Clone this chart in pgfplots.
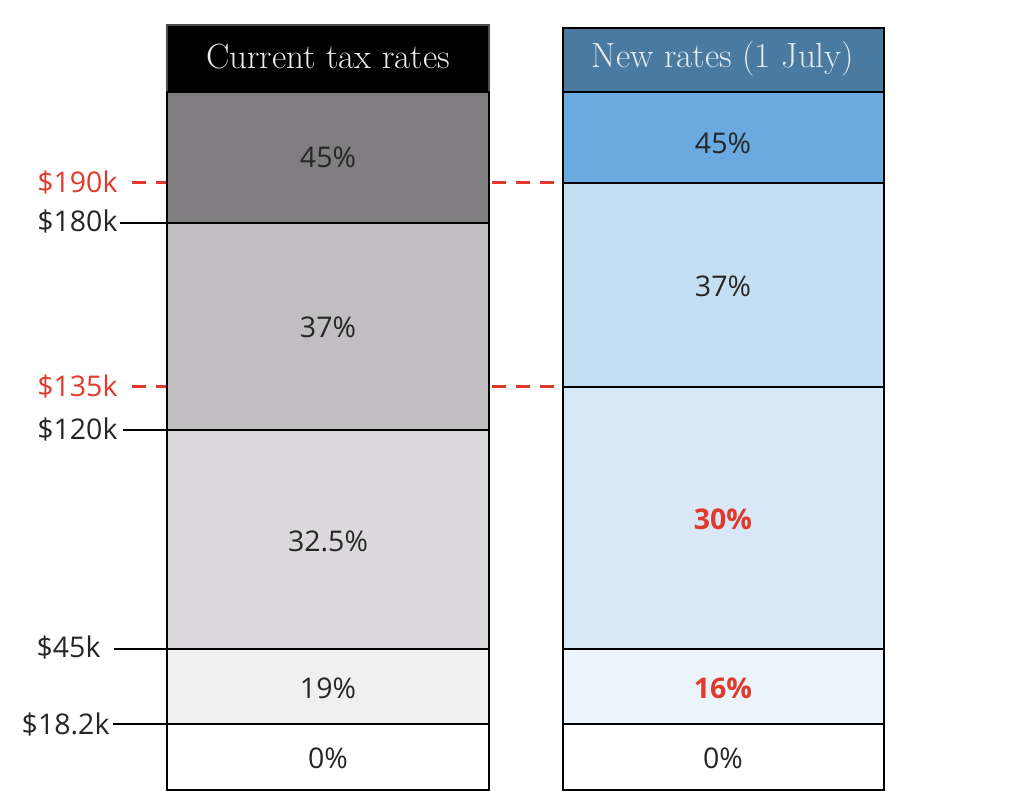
\documentclass[border=0pt]{standalone}
\usepackage{pgfplots}
\pgfplotsset{compat=1.18}
\usepackage{fontspec}
\newfontfamily\lab{Open Sans}
\newcommand{\lf}{\lab\fontsize{28.5}{32}\selectfont}
\definecolor{gA}{HTML}{807E80}
\definecolor{gB}{HTML}{C0BEC0}
\definecolor{gC}{HTML}{DBD9DC}
\definecolor{gD}{HTML}{F0F0F0}
\definecolor{bH}{HTML}{4A7AA0}
\definecolor{bA}{HTML}{6AAAE0}
\definecolor{bB}{HTML}{C5DFF2}
\definecolor{bC}{HTML}{D8E8F6}
\definecolor{bD}{HTML}{EBF3FB}
\definecolor{rd}{HTML}{E03A2A}
\begin{document}
\begin{tikzpicture}
\begin{axis}[x=1pt,y=1pt,xmin=0,xmax=1024,ymin=0,ymax=811,hide axis,clip=false]
\addplot[draw=none] coordinates {(0,0) (1024,811)};
% red dashed thresholds
\addplot[rd,line width=3pt,dash pattern=on 14pt off 10pt] coordinates {(132,628) (563,628)};
\addplot[rd,line width=3pt,dash pattern=on 14pt off 10pt] coordinates {(132,424) (563,424)};
% black tick lines
\addplot[black,line width=2.8pt] coordinates {(120,588) (167,588)};
\addplot[black,line width=2.8pt] coordinates {(123,381) (167,381)};
\addplot[black,line width=2.8pt] coordinates {(114,162) (167,162)};
\addplot[black,line width=2.8pt] coordinates {(113,87) (167,87)};
% left column
\addplot[fill=black,draw=black!70,line width=1.5pt] coordinates {(167,786) (489,786) (489,719) (167,719)} --cycle;
\addplot[fill=gA,draw=black,line width=2.8pt] coordinates {(167,719) (489,719) (489,588) (167,588)} --cycle;
\addplot[fill=gB,draw=black,line width=2.8pt] coordinates {(167,588) (489,588) (489,381) (167,381)} --cycle;
\addplot[fill=gC,draw=black,line width=2.8pt] coordinates {(167,381) (489,381) (489,162) (167,162)} --cycle;
\addplot[fill=gD,draw=black,line width=2.8pt] coordinates {(167,162) (489,162) (489,87) (167,87)} --cycle;
\addplot[fill=white,draw=black,line width=2.8pt] coordinates {(167,87) (489,87) (489,21) (167,21)} --cycle;
% right column
\addplot[fill=bH,draw=black,line width=2.8pt] coordinates {(563,783) (884,783) (884,719) (563,719)} --cycle;
\addplot[fill=bA,draw=black,line width=2.8pt] coordinates {(563,719) (884,719) (884,628) (563,628)} --cycle;
\addplot[fill=bB,draw=black,line width=2.8pt] coordinates {(563,628) (884,628) (884,424) (563,424)} --cycle;
\addplot[fill=bC,draw=black,line width=2.8pt] coordinates {(563,424) (884,424) (884,162) (563,162)} --cycle;
\addplot[fill=bD,draw=black,line width=2.8pt] coordinates {(563,162) (884,162) (884,87) (563,87)} --cycle;
\addplot[fill=white,draw=black,line width=2.8pt] coordinates {(563,87) (884,87) (884,21) (563,21)} --cycle;
% headers
\node[white!92!black,font=\rmfamily\fontsize{35}{38}\selectfont] at (axis cs:328,754) {Current tax rates};
\node[white!85!bH,font=\rmfamily\fontsize{35}{38}\selectfont] at (axis cs:723,752) {New rates (1 July)};
% band labels
\node[black!85,font=\lf] at (axis cs:328,654) {45\%};
\node[black!85,font=\lf] at (axis cs:328,484) {37\%};
\node[black!85,font=\lf] at (axis cs:328,270) {32.5\%};
\node[black!85,font=\lf] at (axis cs:328,123) {19\%};
\node[black!85,font=\lf] at (axis cs:328,53) {0\%};
\node[black!85,font=\lf] at (axis cs:723,668) {45\%};
\node[black!85,font=\lf] at (axis cs:723,525) {37\%};
\node[rd,font=\lf\bfseries] at (axis cs:723,292) {30\%};
\node[rd,font=\lf\bfseries] at (axis cs:723,123) {16\%};
\node[black!85,font=\lf] at (axis cs:723,53) {0\%};
% threshold labels
\node[rd,anchor=east,font=\lf] at (axis cs:121,628) {\$190k};
\node[black!85,anchor=east,font=\lf] at (axis cs:121,589) {\$180k};
\node[rd,anchor=east,font=\lf] at (axis cs:121,424) {\$135k};
\node[black!85,anchor=east,font=\lf] at (axis cs:121,381) {\$120k};
\node[black!85,anchor=east,font=\lf] at (axis cs:104,163) {\$45k};
\node[black!85,anchor=east,font=\lf] at (axis cs:113,87) {\$18.2k};
\end{axis}
\end{tikzpicture}
\end{document}
